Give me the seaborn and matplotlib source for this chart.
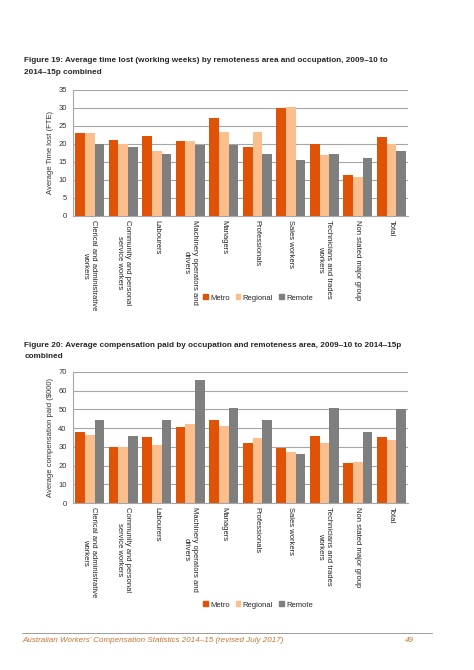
import numpy as np
import pandas as pd
import matplotlib
matplotlib.use('Agg')
import matplotlib.pyplot as plt
import seaborn as sns

# Occupation categories (x axis)
occupations = ['Clerical and administrative\nworkers', 'Community and personal\nservice workers',
               'Labourers', 'Machinery operators and\ndrivers', 'Managers', 'Professionals',
               'Sales workers', 'Technicians and trades\nworkers', 'Non stated major group', 'Total']
areas = ['Metro', 'Regional', 'Remote']

# Figure 19: average time lost (FTE working weeks)
time_metro = [23.1, 21.1, 22.2, 20.9, 27.1, 19.1, 29.8, 19.9, 11.4, 21.9]
time_regional = [22.9, 19.9, 18.0, 20.9, 23.4, 23.2, 30.1, 17.0, 10.9, 19.9]
time_remote = [19.9, 19.0, 17.2, 19.6, 19.7, 17.2, 15.4, 17.2, 16.0, 18.1]

# Figure 20: average compensation paid ($000)
comp_metro = [38.2, 30.0, 35.5, 40.5, 44.5, 32.3, 29.3, 35.9, 21.6, 35.2]
comp_regional = [36.4, 30.0, 31.1, 42.3, 40.9, 34.5, 27.5, 32.0, 22.0, 33.6]
comp_remote = [44.3, 35.7, 44.3, 65.5, 50.7, 44.3, 26.4, 50.5, 37.7, 50.0]

palette = {'Metro': '#E05206', 'Regional': '#FBBF8D', 'Remote': '#7F7F7F'}

sns.set_style('white')
plt.rcParams['font.family'] = ['Liberation Sans', 'DejaVu Sans']


def long_form(metro, regional, remote):
    rows = []
    for area, vals in zip(areas, [metro, regional, remote]):
        for occ, v in zip(occupations, vals):
            rows.append({'Occupation': occ, 'Area': area, 'Value': v})
    return pd.DataFrame(rows)


def draw(ax, df, ymax, step, ylabel, legend_y):
    sns.barplot(data=df, x='Occupation', y='Value', hue='Area', hue_order=areas,
                order=occupations, palette=palette, width=0.86, saturation=1,
                linewidth=0, ax=ax, legend=False)
    ax.set_ylim(0, ymax)
    ax.set_xlim(-0.5, len(occupations) - 0.5)
    ax.set_yticks(np.arange(0, ymax + 1, step))
    ax.yaxis.grid(True, color='#A6A6A6', linewidth=0.8)
    ax.set_axisbelow(True)
    for s in ['top', 'right']:
        ax.spines[s].set_visible(False)
    for s in ['left', 'bottom']:
        ax.spines[s].set_color('#A6A6A6')
        ax.spines[s].set_linewidth(0.8)
    ax.set_xlabel('')
    ax.set_ylabel(ylabel, fontsize=5.5, color='#333333', labelpad=3)
    ax.tick_params(axis='y', labelsize=5.5, colors='#333333', length=2.5, width=0.6,
                   color='#A6A6A6', pad=2)
    ax.set_xticks(range(len(occupations)))
    ax.set_xticklabels(occupations, rotation=-90, ha='center', va='top',
                       multialignment='center', fontsize=5.5, color='#222222')
    ax.tick_params(axis='x', which='major', length=0, pad=3)
    ax.set_xticks(np.arange(-0.5, len(occupations), 1), minor=True)
    ax.tick_params(axis='x', which='minor', length=3, width=0.6, color='#A6A6A6')
    handles = [plt.Rectangle((0, 0), 1, 1, color=palette[a]) for a in areas]
    ax.legend(handles, areas, loc='center', bbox_to_anchor=(258 / 474, 1 - legend_y / 670),
              bbox_transform=ax.figure.transFigure,
              ncol=3, frameon=False, fontsize=5.5, handlelength=0.6, handleheight=0.6,
              handletextpad=0.3, columnspacing=0.8)


fig = plt.figure(figsize=(4.74, 6.70), dpi=100)

ax1 = fig.add_axes([0.154, 0.678, 0.707, 0.188])
draw(ax1, long_form(time_metro, time_regional, time_remote), 35, 5,
     'Average Time lost (FTE)', 298)

ax2 = fig.add_axes([0.154, 0.249, 0.707, 0.196])
draw(ax2, long_form(comp_metro, comp_regional, comp_remote), 70, 10,
     'Average compensation paid ($000)', 605)

title_kw = dict(fontsize=5.9, fontweight='bold', va='center')
fig.text(0.051, 1 - 61 / 670, 'Figure 19: Average time lost (working weeks) by remoteness area and occupation, 2009\u201310 to', **title_kw)
fig.text(0.051, 1 - 72 / 670, '2014\u201315p combined', **title_kw)
fig.text(0.051, 1 - 345 / 670, 'Figure 20: Average compensation paid by occupation and remoteness area, 2009\u201310 to 2014\u201315p', **title_kw)
fig.text(0.051, 1 - 356 / 670, 'combined', **title_kw)

# footer
fig.add_artist(plt.Line2D([22 / 474, 432 / 474], [1 - 633 / 670, 1 - 633 / 670],
                          color='#8C8C8C', linewidth=0.6))
fig.text(22 / 474, 1 - 640 / 670, "Australian Workers\u2019 Compensation Statistics 2014\u201315 (revised July 2017)",
         fontsize=5.8, style='italic', color='#C87533', va='center')
fig.text(405 / 474, 1 - 640 / 670, '49', fontsize=5.8, style='italic', color='#C87533', va='center')

fig.savefig('out.png', dpi=100)
